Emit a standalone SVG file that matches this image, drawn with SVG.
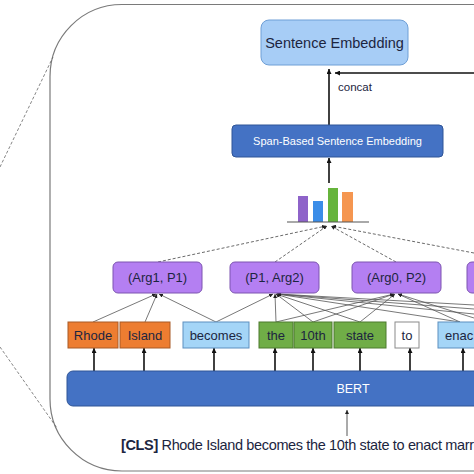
<svg xmlns="http://www.w3.org/2000/svg" width="474" height="474" viewBox="0 0 474 474">
<defs>
<marker id="ah" viewBox="0 0 6 6" refX="6" refY="3" markerWidth="5" markerHeight="5" markerUnits="userSpaceOnUse" orient="auto">
<path d="M0,0 L6,3 L0,6 z" fill="#111"/>
</marker>
<marker id="ahs" viewBox="0 0 6 6" refX="6" refY="3" markerWidth="4" markerHeight="4" markerUnits="userSpaceOnUse" orient="auto">
<path d="M0,0 L6,3 L0,6 z" fill="#222"/>
</marker>
</defs>
<style>
text{font-family:"Liberation Sans",Arial,sans-serif;}
.dark{fill:#1c2540;}
.pair rect{fill:#b47ff2;stroke:#7d55b0;stroke-width:1;}
.tok rect{stroke-width:1;}
.orange rect{fill:#ed7d31;stroke:#a85a26;}
.lblue rect{fill:#a4d5f7;stroke:#5d8fbf;}
.green rect{fill:#70ad47;stroke:#4c7a2f;}
.white rect{fill:#fff;stroke:#8a8a8a;}
.tl{font-size:13px;fill:#1c2540;text-anchor:middle;}
.tls{font-size:13px;fill:#1c2540;text-anchor:start;}
.pl{font-size:13px;fill:#1c2540;text-anchor:middle;}
.thin{stroke:#555;stroke-width:0.8;fill:none;marker-end:url(#ahs);}
.dash{stroke:#444;stroke-width:0.8;stroke-dasharray:3,2;fill:none;marker-end:url(#ahs);}
.thick{stroke:#111;stroke-width:1.6;fill:none;marker-end:url(#ah);}
</style>
<rect width="474" height="474" fill="#fff"/>

<!-- outer frame -->
<g id="frame">
<path d="M530,4.5 L122,4.5 A72,72 0 0 0 50,76.5 L50,399 A72,72 0 0 0 122,471 L530,471" fill="none" stroke="#7a7a7a" stroke-width="1.2"/>
<line x1="0" y1="167" x2="53" y2="57" stroke="#666" stroke-width="0.8" stroke-dasharray="3,2"/>
<line x1="0" y1="347" x2="57" y2="428" stroke="#666" stroke-width="0.8" stroke-dasharray="3,2"/>
</g>

<g id="connectors">
<line class="thick" x1="329" y1="125" x2="329" y2="69"/>
<line class="thick" x1="474" y1="73" x2="335" y2="73"/>
<line class="thick" x1="329" y1="183" x2="329" y2="158"/>
<line class="dash" x1="158" y1="262" x2="326" y2="226"/>
<line class="dash" x1="275" y1="262" x2="327" y2="226"/>
<line class="dash" x1="396" y1="262" x2="331" y2="226"/>
<line class="dash" x1="474" y1="253" x2="332" y2="226"/>
<line class="thin" x1="93" y1="322" x2="156" y2="294"/>
<line class="thin" x1="145" y1="322" x2="157" y2="294"/>
<line class="thin" x1="216" y1="322" x2="159" y2="294"/>
<line class="thin" x1="216" y1="322" x2="273" y2="294"/>
<line class="thin" x1="276" y1="322" x2="275" y2="294"/>
<line class="thin" x1="313" y1="322" x2="276" y2="294"/>
<line class="thin" x1="360" y1="322" x2="276" y2="294"/>
<line class="thin" x1="460" y1="322" x2="277" y2="294"/>
<line class="thin" x1="474" y1="305" x2="277" y2="294"/>
<line class="thin" x1="474" y1="309" x2="277" y2="294"/>
<line class="thin" x1="474" y1="314" x2="277" y2="294"/>
<line class="thin" x1="276" y1="322" x2="394" y2="294"/>
<line class="thin" x1="313" y1="322" x2="394" y2="294"/>
<line class="thin" x1="360" y1="322" x2="395" y2="294"/>
<line class="thin" x1="460" y1="322" x2="398" y2="294"/>
<line class="thin" x1="474" y1="318" x2="398" y2="294"/>
<line class="thick" x1="94" y1="371" x2="94" y2="348"/>
<line class="thick" x1="144" y1="371" x2="144" y2="348"/>
<line class="thick" x1="214" y1="371" x2="214" y2="348"/>
<line class="thick" x1="275" y1="371" x2="275" y2="348"/>
<line class="thick" x1="313" y1="371" x2="313" y2="348"/>
<line class="thick" x1="360" y1="371" x2="360" y2="348"/>
<line class="thick" x1="410" y1="371" x2="410" y2="348"/>
<line class="thick" x1="463" y1="371" x2="463" y2="348"/>
<line x1="347" y1="436" x2="347" y2="410" stroke="#444" stroke-width="0.9" marker-end="url(#ahs)"/>
</g>

<g id="sentence-embedding">
<rect x="261" y="20" width="147" height="45" rx="8" fill="#a7cdf6" stroke="#6f9fd6" stroke-width="1"/>
<text x="334.5" y="48" font-size="14.5" text-anchor="middle" class="dark">Sentence Embedding</text>
</g>
<text id="concat-label" x="338" y="91" font-size="11.5" class="dark">concat</text>

<g id="span-embedding">
<rect x="232" y="125" width="211" height="32" rx="4" fill="#4472c4" stroke="#2f5597" stroke-width="1"/>
<text x="337.5" y="145" font-size="11" fill="#fff" text-anchor="middle">Span-Based Sentence Embedding</text>
</g>

<g id="histogram">
<rect x="298" y="196" width="10" height="26" fill="#8e63c9"/>
<rect x="313" y="201" width="10" height="21" fill="#3b8de8"/>
<rect x="328" y="188" width="10" height="34" fill="#66b43c"/>
<rect x="342" y="192" width="11" height="30" fill="#f59650"/>
<line x1="287" y1="222" x2="369" y2="222" stroke="#555" stroke-width="1.2"/>
</g>

<g id="pair-arg1-p1" class="pair"><rect x="113" y="262" width="89" height="31" rx="5"/><text class="pl" x="157.5" y="282">(Arg1, P1)</text></g>
<g id="pair-p1-arg2" class="pair"><rect x="230" y="262" width="89" height="31" rx="5"/><text class="pl" x="274.5" y="282">(P1, Arg2)</text></g>
<g id="pair-arg0-p2" class="pair"><rect x="352" y="262" width="89" height="31" rx="5"/><text class="pl" x="396.5" y="282">(Arg0, P2)</text></g>
<g id="pair-4" class="pair"><rect x="467" y="262" width="40" height="31" rx="5"/></g>

<g id="tok-rhode" class="tok orange"><rect x="68" y="322" width="50" height="26"/><text class="tl" x="93" y="340">Rhode</text></g>
<g id="tok-island" class="tok orange"><rect x="120" y="322" width="50" height="26"/><text class="tl" x="145" y="340">Island</text></g>
<g id="tok-becomes" class="tok lblue"><rect x="183" y="322" width="66" height="26"/><text class="tl" x="216" y="340">becomes</text></g>
<g id="tok-the" class="tok green"><rect x="259" y="322" width="34" height="26"/><text class="tl" x="276" y="340">the</text></g>
<g id="tok-10th" class="tok green"><rect x="294" y="322" width="38" height="26"/><text class="tl" x="313" y="340">10th</text></g>
<g id="tok-state" class="tok green"><rect x="334" y="322" width="52" height="26"/><text class="tl" x="360" y="340">state</text></g>
<g id="tok-to" class="tok white"><rect x="395" y="322" width="24" height="26"/><text class="tl" x="407" y="340">to</text></g>
<g id="tok-enac" class="tok lblue"><rect x="438" y="322" width="60" height="26"/><text class="tls" x="445" y="340">enac</text></g>

<g id="bert">
<rect x="67" y="371" width="440" height="35" rx="6" fill="#4472c4" stroke="#2f5597" stroke-width="1"/>
<text x="353" y="393" font-size="12.5" fill="#fff" text-anchor="middle">BERT</text>
</g>

<text id="input-sentence" x="121" y="450" font-size="14.5" class="dark" textLength="353" lengthAdjust="spacing"><tspan font-weight="bold">[CLS]</tspan> Rhode Island becomes the 10th state to enact marr</text>
</svg>
